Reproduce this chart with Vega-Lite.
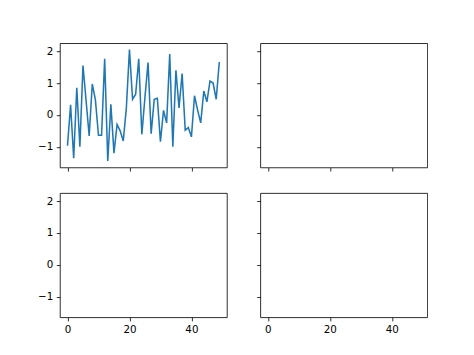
{
  "$schema": "https://vega.github.io/schema/vega-lite/v6.json",
  "autosize": {"type": "pad"},
  "padding": {"left": 36.9, "top": 42.2, "right": 0, "bottom": 0},
  "background": "white",
  "config": {
    "view": {"stroke": "black", "strokeWidth": 0.82},
    "axis": {
      "grid": false, "domain": false, "tickColor": "black", "tickSize": 3.6, "tickWidth": 0.82,
      "labelFont": "DejaVu Sans", "labelFontSize": 10.3, "labelColor": "black", "labelPadding": 3.6,
      "title": null
    }
  },
  "datasets": {
    "series": [
      {"x": 0, "y": -0.97}, {"x": 1, "y": 0.32}, {"x": 2, "y": -1.36}, {"x": 3, "y": 0.85}, {"x": 4, "y": -1.0},
      {"x": 5, "y": 1.55}, {"x": 6, "y": 0.45}, {"x": 7, "y": -0.66}, {"x": 8, "y": 0.97}, {"x": 9, "y": 0.48},
      {"x": 10, "y": -0.64}, {"x": 11, "y": -0.64}, {"x": 12, "y": 1.76}, {"x": 13, "y": -1.45}, {"x": 14, "y": 0.33},
      {"x": 15, "y": -1.2}, {"x": 16, "y": -0.3}, {"x": 17, "y": -0.5}, {"x": 18, "y": -0.82}, {"x": 19, "y": 0.22},
      {"x": 20, "y": 2.05}, {"x": 21, "y": 0.49}, {"x": 22, "y": 0.65}, {"x": 23, "y": 1.76}, {"x": 24, "y": -0.61},
      {"x": 25, "y": 0.55}, {"x": 26, "y": 1.64}, {"x": 27, "y": -0.59}, {"x": 28, "y": 0.49}, {"x": 29, "y": 0.52},
      {"x": 30, "y": -0.84}, {"x": 31, "y": 0.14}, {"x": 32, "y": -0.25}, {"x": 33, "y": 1.91}, {"x": 34, "y": -1.0},
      {"x": 35, "y": 1.4}, {"x": 36, "y": 0.22}, {"x": 37, "y": 1.3}, {"x": 38, "y": -0.48}, {"x": 39, "y": -0.4},
      {"x": 40, "y": -0.69}, {"x": 41, "y": 0.6}, {"x": 42, "y": 0.15}, {"x": 43, "y": -0.25}, {"x": 44, "y": 0.75},
      {"x": 45, "y": 0.41}, {"x": 46, "y": 1.06}, {"x": 47, "y": 1.0}, {"x": 48, "y": 0.49}, {"x": 49, "y": 1.66}
    ],
    "empty": []
  },
  "columns": 2,
  "spacing": {"row": 24.85, "column": 33.4},
  "bounds": "flush",
  "concat": [
    {
      "width": 167, "height": 124.25,
      "data": {"name": "series"},
      "mark": {"type": "line", "color": "#1f77b4", "strokeWidth": 1.54},
      "encoding": {
        "x": {"field": "x", "type": "quantitative", "scale": {"domain": [-2.45, 51.45], "nice": false, "zero": false}, "axis": {"values": [0, 20, 40], "labels": false}},
        "y": {"field": "y", "type": "quantitative", "scale": {"domain": [-1.65, 2.25], "nice": false, "zero": false}, "axis": {"values": [-1, 0, 1, 2]}}
      }
    },
    {
      "width": 167, "height": 124.25,
      "data": {"name": "empty"},
      "mark": {"type": "line"},
      "encoding": {
        "x": {"field": "x", "type": "quantitative", "scale": {"domain": [-2.45, 51.45], "nice": false, "zero": false}, "axis": {"values": [0, 20, 40], "labels": false}},
        "y": {"field": "y", "type": "quantitative", "scale": {"domain": [-1.65, 2.25], "nice": false, "zero": false}, "axis": {"values": [-1, 0, 1, 2], "labels": false}}
      }
    },
    {
      "width": 167, "height": 124.25,
      "data": {"name": "empty"},
      "mark": {"type": "line"},
      "encoding": {
        "x": {"field": "x", "type": "quantitative", "scale": {"domain": [-2.45, 51.45], "nice": false, "zero": false}, "axis": {"values": [0, 20, 40]}},
        "y": {"field": "y", "type": "quantitative", "scale": {"domain": [-1.65, 2.25], "nice": false, "zero": false}, "axis": {"values": [-1, 0, 1, 2]}}
      }
    },
    {
      "width": 167, "height": 124.25,
      "data": {"name": "empty"},
      "mark": {"type": "line"},
      "encoding": {
        "x": {"field": "x", "type": "quantitative", "scale": {"domain": [-2.45, 51.45], "nice": false, "zero": false}, "axis": {"values": [0, 20, 40]}},
        "y": {"field": "y", "type": "quantitative", "scale": {"domain": [-1.65, 2.25], "nice": false, "zero": false}, "axis": {"values": [-1, 0, 1, 2], "labels": false}}
      }
    }
  ]
}
